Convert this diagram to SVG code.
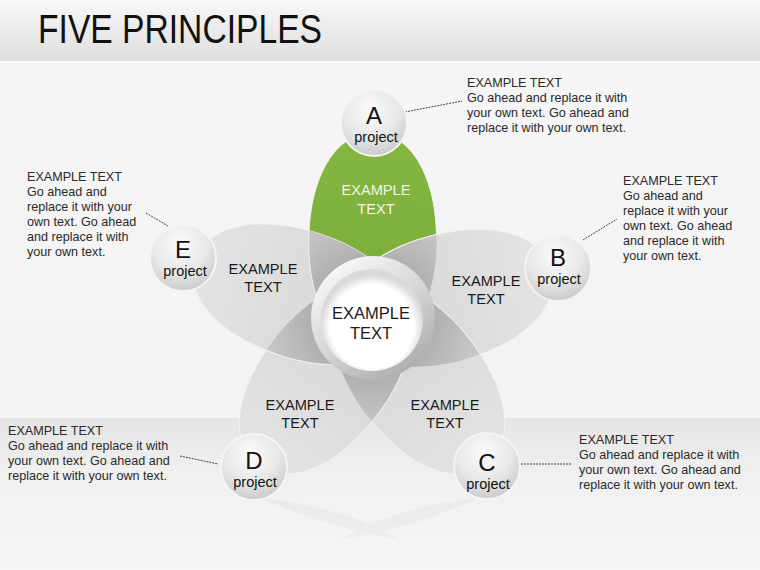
<svg xmlns="http://www.w3.org/2000/svg" xmlns:xlink="http://www.w3.org/1999/xlink" width="760" height="570" viewBox="0 0 760 570">
<style>
.t{font-family:"Liberation Sans",Arial,sans-serif;}
.desc{font-family:"Liberation Sans",Arial,sans-serif;font-size:12.6px;fill:#2a2a2a;}
.pl{font-family:"Liberation Sans",Arial,sans-serif;font-size:14.6px;fill:#1a1a1a;text-anchor:middle;}
.letter{font-family:"Liberation Sans",Arial,sans-serif;font-size:24px;fill:#111;text-anchor:middle;}
.proj{font-family:"Liberation Sans",Arial,sans-serif;font-size:14.5px;fill:#111;text-anchor:middle;}
.lead{stroke:#444;stroke-width:1;stroke-dasharray:2 1;fill:none;}
.bub{fill:url(#bubG);stroke:#f4f4f4;stroke-width:2;}
</style>
<defs>
<linearGradient id="titleG" x1="0" y1="0" x2="0" y2="1"><stop offset="0" stop-color="#f8f8f8"/><stop offset="1" stop-color="#dedede"/></linearGradient>
<linearGradient id="bodyG" x1="0" y1="0" x2="0" y2="1"><stop offset="0" stop-color="#f6f6f6"/><stop offset="1" stop-color="#f2f2f2"/></linearGradient>
<linearGradient id="floorG" x1="0" y1="0" x2="0" y2="1"><stop offset="0" stop-color="#e4e4e4"/><stop offset="0.35" stop-color="#f0f0f0"/><stop offset="1" stop-color="#f6f6f6"/></linearGradient>
<linearGradient id="grayP" x1="0" y1="0" x2="1" y2="0"><stop offset="0" stop-color="#c8c8c8"/><stop offset="0.45" stop-color="#dadada"/><stop offset="1" stop-color="#e4e4e4"/></linearGradient>
<linearGradient id="greenP" x1="0" y1="0" x2="1" y2="0"><stop offset="0" stop-color="#6f9f2e"/><stop offset="0.5" stop-color="#7fb03b"/><stop offset="1" stop-color="#86b642"/></linearGradient>
<radialGradient id="ov" gradientUnits="userSpaceOnUse" cx="0" cy="0" r="150"><stop offset="0.35" stop-color="#acacac"/><stop offset="0.7" stop-color="#c6c6c6"/><stop offset="1" stop-color="#d6d6d6"/></radialGradient>
<linearGradient id="ringG" x1="0.2" y1="0.1" x2="0.8" y2="0.95"><stop offset="0" stop-color="#f6f6f6"/><stop offset="0.5" stop-color="#d4d4d4"/><stop offset="1" stop-color="#acacac"/></linearGradient>
<radialGradient id="innerG" cx="0.5" cy="0.56" r="0.5"><stop offset="0.82" stop-color="#ffffff"/><stop offset="1" stop-color="#dadada"/></radialGradient>
<radialGradient id="bubG" cx="0.45" cy="0.3" r="0.7"><stop offset="0" stop-color="#fbfbfb"/><stop offset="0.6" stop-color="#e8e8e8"/><stop offset="1" stop-color="#cbcbcb"/></radialGradient>
<path id="petal" d="M -45,0 C -35,42 25,64 75,64 C 135,64 185,42 185,0 C 185,-42 135,-64 75,-64 C 25,-64 -35,-42 -45,0 Z"/>
<clipPath id="cA"><use xlink:href="#petal" href="#petal" transform="translate(372,318) rotate(-89.5)"/></clipPath>
<clipPath id="cB"><use xlink:href="#petal" href="#petal" transform="translate(372,318) rotate(-15)"/></clipPath>
<clipPath id="cC"><use xlink:href="#petal" href="#petal" transform="translate(372,318) rotate(52)"/></clipPath>
<clipPath id="cD"><use xlink:href="#petal" href="#petal" transform="translate(372,318) rotate(128)"/></clipPath>
<clipPath id="cE"><use xlink:href="#petal" href="#petal" transform="translate(372,318) rotate(198)"/></clipPath>
</defs>

<!-- background -->
<rect x="0" y="0" width="760" height="570" fill="url(#bodyG)"/>
<rect x="0" y="418" width="760" height="152" fill="url(#floorG)"/>
<rect x="0" y="0" width="760" height="61" fill="url(#titleG)"/>
<rect x="0" y="61" width="760" height="2" fill="#ffffff"/>
<text class="t" x="38" y="43" font-size="40" textLength="284" lengthAdjust="spacingAndGlyphs" fill="#111">FIVE PRINCIPLES</text>

<!-- faint reflections -->
<g opacity="0.09">
<path d="M 262,498 C 320,505 370,520 400,540 C 345,530 300,516 262,498 Z" fill="#b0b0b0"/>
<path d="M 478,498 C 420,505 370,520 340,540 C 395,530 440,516 478,498 Z" fill="#b0b0b0"/>
</g>

<!-- petals -->
<g id="petals" stroke="#f2f2f2" stroke-width="1">
<use id="petal-A" xlink:href="#petal" href="#petal" transform="translate(372,318) rotate(-89.5)" fill="url(#greenP)"/>
<use id="petal-B" xlink:href="#petal" href="#petal" transform="translate(372,318) rotate(-15)" fill="url(#grayP)"/>
<use id="petal-C" xlink:href="#petal" href="#petal" transform="translate(372,318) rotate(52)" fill="url(#grayP)"/>
<use id="petal-D" xlink:href="#petal" href="#petal" transform="translate(372,318) rotate(128)" fill="url(#grayP)"/>
<use id="petal-E" xlink:href="#petal" href="#petal" transform="translate(372,318) rotate(198)" fill="url(#grayP)"/>
</g>

<!-- overlaps -->
<g id="overlaps" stroke="#eeeeee" stroke-width="1">
<g clip-path="url(#cA)"><use xlink:href="#petal" href="#petal" transform="translate(372,318) rotate(-15)" fill="url(#ov)"/></g>
<g clip-path="url(#cB)"><use xlink:href="#petal" href="#petal" transform="translate(372,318) rotate(52)" fill="url(#ov)"/></g>
<g clip-path="url(#cC)"><use xlink:href="#petal" href="#petal" transform="translate(372,318) rotate(128)" fill="url(#ov)"/></g>
<g clip-path="url(#cD)"><use xlink:href="#petal" href="#petal" transform="translate(372,318) rotate(198)" fill="url(#ov)"/></g>
<g clip-path="url(#cE)"><use xlink:href="#petal" href="#petal" transform="translate(372,318) rotate(-89.5)" fill="url(#ov)"/></g>
</g>

<!-- center -->
<g id="center">
<circle cx="373" cy="318" r="62" fill="url(#ringG)"/>
<circle cx="372" cy="320" r="51" fill="url(#innerG)"/>
<text class="pl" x="371" y="319" style="font-size:16.5px">EXAMPLE</text>
<text class="pl" x="371" y="339" style="font-size:16.5px">TEXT</text>
</g>

<!-- connectors -->
<g id="connectors">
<line class="lead" x1="405" y1="112" x2="462" y2="101"/>
<line class="lead" x1="583" y1="240" x2="617" y2="219"/>
<line class="lead" x1="521" y1="464" x2="572" y2="464"/>
<line class="lead" x1="180" y1="456" x2="218" y2="464"/>
<line class="lead" x1="146" y1="213" x2="168" y2="226"/>
</g>

<g id="node-A">
<text class="pl" x="376" y="195" style="fill:#f2f7e6">EXAMPLE</text>
<text class="pl" x="376" y="214" style="fill:#f2f7e6">TEXT</text>
<circle class="bub" cx="374" cy="123" r="33"/>
<text class="letter" x="374" y="124">A</text>
<text class="proj" x="376" y="142">project</text>
<text class="desc" x="467" y="87">EXAMPLE TEXT</text>
<text class="desc" x="467" y="102">Go ahead and replace it with</text>
<text class="desc" x="467" y="117">your own text. Go ahead and</text>
<text class="desc" x="467" y="132">replace it with your own text.</text>
</g>

<g id="node-B">
<text class="pl" x="486" y="286">EXAMPLE</text>
<text class="pl" x="486" y="304">TEXT</text>
<circle class="bub" cx="558" cy="268" r="33"/>
<text class="letter" x="558" y="266">B</text>
<text class="proj" x="559" y="284">project</text>
<text class="desc" x="623" y="185">EXAMPLE TEXT</text>
<text class="desc" x="623" y="200">Go ahead and</text>
<text class="desc" x="623" y="215">replace it with your</text>
<text class="desc" x="623" y="230">own text. Go ahead</text>
<text class="desc" x="623" y="245">and replace it with</text>
<text class="desc" x="623" y="260">your own text.</text>
</g>

<g id="node-C">
<text class="pl" x="445" y="410">EXAMPLE</text>
<text class="pl" x="445" y="428">TEXT</text>
<circle class="bub" cx="487" cy="466" r="33"/>
<text class="letter" x="487" y="471">C</text>
<text class="proj" x="488" y="489">project</text>
<text class="desc" x="579" y="444">EXAMPLE TEXT</text>
<text class="desc" x="579" y="459">Go ahead and replace it with</text>
<text class="desc" x="579" y="474">your own text. Go ahead and</text>
<text class="desc" x="579" y="489">replace it with your own text.</text>
</g>

<g id="node-D">
<text class="pl" x="300" y="410">EXAMPLE</text>
<text class="pl" x="300" y="428">TEXT</text>
<circle class="bub" cx="254" cy="467" r="33"/>
<text class="letter" x="254" y="469">D</text>
<text class="proj" x="255" y="487">project</text>
<text class="desc" x="8" y="435">EXAMPLE TEXT</text>
<text class="desc" x="8" y="450">Go ahead and replace it with</text>
<text class="desc" x="8" y="465">your own text. Go ahead and</text>
<text class="desc" x="8" y="480">replace it with your own text.</text>
</g>

<g id="node-E">
<text class="pl" x="263" y="274">EXAMPLE</text>
<text class="pl" x="263" y="292">TEXT</text>
<circle class="bub" cx="183" cy="258" r="33"/>
<text class="letter" x="183" y="258">E</text>
<text class="proj" x="185" y="276">project</text>
<text class="desc" x="27" y="181">EXAMPLE TEXT</text>
<text class="desc" x="27" y="196">Go ahead and</text>
<text class="desc" x="27" y="211">replace it with your</text>
<text class="desc" x="27" y="226">own text. Go ahead</text>
<text class="desc" x="27" y="241">and replace it with</text>
<text class="desc" x="27" y="256">your own text.</text>
</g>
</svg>
